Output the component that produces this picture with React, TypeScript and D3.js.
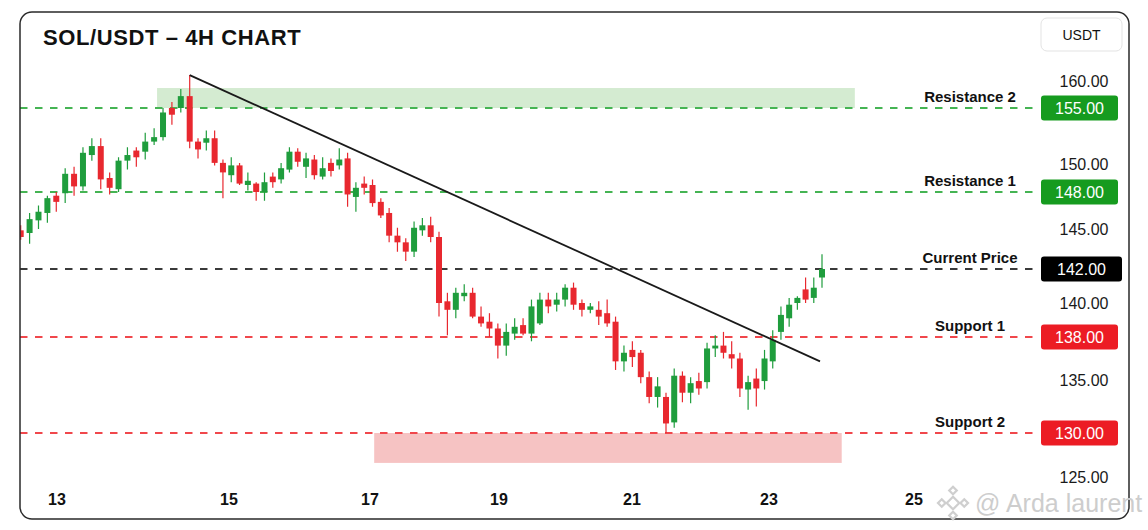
import React from 'react';
import * as d3 from 'd3';

// ---- Data ----
const opens = [144.9,144.7,145.7,146.3,147.7,147.9,149.3,148.4,150.8,151.6,149.0,148.2,150.3,151.2,151.1,152.0,152.4,155.0,155.0,157.2,
152.0,151.9,152.3,150.1,149.2,149.9,148.5,148.6,148.0,149.1,148.9,149.6,151.1,149.8,150.4,149.1,150.1,149.9,150.5,147.6,
148.6,148.5,147.2,146.3,144.5,144.0,143.3,144.9,145.3,144.4,140.1,139.6,140.4,140.6,139.2,138.9,138.5,137.4,138.2,138.7,
138.2,138.8,140.2,139.9,140.2,140.9,140.0,139.6,139.6,139.4,138.9,136.3,137.1,136.9,135.2,133.4,133.4,131.0,135.3,133.8,
134.9,134.8,137.2,137.4,136.8,136.5,134.1,135.1,134.9,136.3,138.3,139.1,140.0,140.8,140.3,141.5];
const highs = [145.3,146.3,146.9,147.7,148.0,149.7,149.8,151.5,152.3,152.3,149.4,150.6,151.5,151.5,152.8,153.2,155.0,156.1,158.5,161.1,
152.3,153.0,153.0,150.4,150.6,150.1,149.4,148.7,149.4,149.4,150.1,151.5,151.4,151.0,150.8,150.6,150.5,151.4,151.0,148.7,
149.1,148.9,147.5,146.7,145.1,144.3,145.6,145.9,146.0,144.8,140.6,140.9,141.1,140.9,139.8,139.4,138.8,138.8,139.1,139.1,
140.2,140.6,140.6,140.6,141.1,141.2,140.2,140.0,140.1,140.2,139.2,137.4,137.7,137.1,135.6,135.2,133.8,135.8,135.6,135.2,
135.5,137.6,138.1,138.3,137.7,136.9,135.3,135.8,137.1,138.4,139.8,140.3,140.4,141.5,141.5,143.1];
const lows = [144.2,143.9,145.0,145.5,146.4,147.1,147.7,148.1,150.3,148.2,147.8,148.0,149.6,149.8,150.4,151.7,152.1,153.5,154.6,151.4,
150.5,151.2,149.9,147.5,148.7,148.5,148.1,147.3,147.3,148.3,148.6,149.4,149.8,149.0,148.9,148.9,149.1,149.6,146.8,146.4,
147.8,146.8,145.9,144.0,143.3,142.6,142.9,144.5,144.0,139.2,138.1,139.1,140.1,139.1,138.6,138.0,136.5,136.7,137.8,138.1,
137.7,138.7,139.4,139.5,139.8,139.6,139.2,139.4,138.7,138.6,135.7,135.6,135.9,134.7,132.8,132.4,130.0,130.5,132.9,132.8,
133.6,134.2,136.6,136.5,135.8,133.4,132.2,132.5,134.1,135.8,137.8,138.6,139.6,140.0,140.0,140.9];
const closes = [144.4,145.8,146.4,147.5,147.2,149.3,148.4,151.0,151.6,148.9,148.3,150.3,150.8,150.6,152.0,152.4,154.6,154.4,157.2,152.0,
151.3,152.3,150.1,149.4,149.9,148.6,148.8,148.0,148.7,148.7,149.7,151.1,150.2,150.5,149.2,149.7,149.5,150.4,147.8,148.3,
148.3,147.1,146.1,144.5,144.0,143.3,145.1,145.3,144.4,140.0,139.6,140.6,140.6,139.2,138.8,138.5,137.4,138.3,138.6,138.2,
139.8,140.2,139.8,140.2,140.9,139.9,139.6,139.8,139.2,138.8,136.3,136.9,136.6,135.2,133.4,134.4,130.9,135.3,133.8,134.7,
134.2,137.2,137.4,136.9,136.5,134.2,134.8,134.2,136.5,137.8,139.3,139.9,140.3,140.2,140.9,142.0];

const priceTicks = [160, 150, 145, 140, 135, 125];
const dateTicks = [13, 15, 17, 19, 21, 23, 25];
const levelNames = ['Resistance 2', 'Resistance 1', 'Current Price', 'Support 1', 'Support 2'];
const levelValues = [155, 148, 142, 138, 130];
const levelKinds = ['res', 'res', 'cur', 'sup', 'sup'];
const resistanceZone = { fromIdx: 15.33, toIdx: 99.0, low: 155, high: 158.7 };
const supportZone = { fromIdx: 41.2, toIdx: 97.4, low: 126.6, high: 130 };
const trendStart = { idx: 19, price: 161.1 };
const trendEnd = { idx: 94.76, price: 136.3 };

const W = 1148;
const H = 530;
const FONT = "'Liberation Sans', Arial, Helvetica, sans-serif";

const COLORS = {
  up: '#1f9d3d',
  down: '#e8282f',
  res: '#45b453',
  cur: '#3a3a3a',
  sup: '#f0474c',
  boxRes: '#169b1f',
  boxCur: '#000000',
  boxSup: '#ec1c24',
};

export default function App() {
  // The reference's price axis is non-uniform; reproduce it with a polylinear scale.
  const y = d3
    .scaleLinear()
    .domain([125, 130, 135, 138, 140, 142, 145, 148, 150, 155, 160])
    .range([477, 433, 380, 337, 303, 269, 229, 192, 164, 108, 81]);
  // Candle spacing in the reference is slightly uneven; calibrate with a polylinear scale.
  const x = d3.scaleLinear().domain([0, 19, 49, 76, 95]).range([20.7, 189.7, 439, 666, 822]);
  const xDate = d3
    .scaleLinear()
    .domain(dateTicks)
    .range([57, 229, 370, 499, 632, 769, 914]);

  const frame = { x: 20, y: 12, w: 1109, h: 507, r: 12 };
  const lineX0 = frame.x;
  const lineX1 = 1040;
  const bodyW = 6;

  const lineColor = (k: string) => (k === 'res' ? COLORS.res : k === 'cur' ? COLORS.cur : COLORS.sup);
  const boxColor = (k: string) => (k === 'res' ? COLORS.boxRes : k === 'cur' ? COLORS.boxCur : COLORS.boxSup);

  const candles = opens.map((o, i) => ({ o, h: highs[i], l: lows[i], c: closes[i], i }));

  return (
    <svg
      width={W}
      height={H}
      viewBox={`0 0 ${W} ${H}`}
      style={{ position: 'absolute', left: 0, top: 0, background: '#fff', fontFamily: FONT }}
    >
      <defs>
        <clipPath id="plotClip">
          <rect x={frame.x} y={frame.y} width={frame.w} height={frame.h} rx={frame.r} />
        </clipPath>
      </defs>
      <rect x={0} y={0} width={W} height={H} fill="#fff" />

      <g clipPath="url(#plotClip)">
        {/* zones */}
        <rect
          x={x(resistanceZone.fromIdx)}
          y={y(resistanceZone.high)}
          width={x(resistanceZone.toIdx) - x(resistanceZone.fromIdx)}
          height={y(resistanceZone.low) - y(resistanceZone.high)}
          fill="#cfe9cc"
          opacity={0.9}
        />
        <rect
          x={x(supportZone.fromIdx)}
          y={y(supportZone.high)}
          width={x(supportZone.toIdx) - x(supportZone.fromIdx)}
          height={y(supportZone.low) - y(supportZone.high)}
          fill="#f5bcbd"
          opacity={0.9}
        />

        {/* level lines */}
        {levelValues.map((v, i) => (
          <line
            key={'lv' + i}
            x1={lineX0}
            x2={lineX1}
            y1={y(v)}
            y2={y(v)}
            stroke={lineColor(levelKinds[i])}
            strokeWidth={2}
            strokeDasharray="7.5,7.5"
          />
        ))}

        {/* candles */}
        {candles.map((d) => {
          const up = d.c >= d.o;
          const col = up ? COLORS.up : COLORS.down;
          const cx = x(d.i);
          const top = y(Math.max(d.o, d.c));
          const bot = y(Math.min(d.o, d.c));
          return (
            <g key={'c' + d.i}>
              <line x1={cx} x2={cx} y1={y(d.h)} y2={y(d.l)} stroke={col} strokeWidth={1.2} />
              <rect x={cx - bodyW / 2} y={top} width={bodyW} height={Math.max(1.5, bot - top)} fill={col} />
            </g>
          );
        })}

        {/* trend line */}
        <line
          x1={x(trendStart.idx)}
          y1={y(trendStart.price)}
          x2={x(trendEnd.idx)}
          y2={y(trendEnd.price)}
          stroke="#1a1a1a"
          strokeWidth={1.8}
        />
      </g>

      {/* frame */}
      <rect
        x={frame.x}
        y={frame.y}
        width={frame.w}
        height={frame.h}
        rx={frame.r}
        fill="none"
        stroke="#2a2a2a"
        strokeWidth={1.5}
      />

      {/* title */}
      <text x={43} y={45} fontSize={22} fontWeight="bold" letterSpacing={0.6} fill="#111">
        SOL/USDT – 4H CHART
      </text>

      {/* USDT box */}
      <rect x={1041} y={18} width={81} height={33} rx={6} fill="#fff" stroke="#e3e3e3" strokeWidth={1} />
      <text x={1081.5} y={35} fontSize={14} textAnchor="middle" dominantBaseline="central" fill="#111">
        USDT
      </text>

      {/* price tick labels */}
      {priceTicks.map((t) => (
        <text
          key={'pt' + t}
          x={1084}
          y={y(t)}
          fontSize={16}
          textAnchor="middle"
          dominantBaseline="central"
          fill="#1a1a1a"
        >
          {t.toFixed(2)}
        </text>
      ))}

      {/* level labels and boxes */}
      {levelValues.map((v, i) => {
        const k = levelKinds[i];
        const bw = k === 'cur' ? 81 : 77;
        return (
          <g key={'lb' + i}>
            <text
              x={970}
              y={y(v) - 6.5}
              fontSize={15}
              fontWeight="bold"
              textAnchor="middle"
              fill="#111"
            >
              {levelNames[i]}
            </text>
            <rect x={1041} y={y(v) - 12.5} width={bw} height={25} rx={3} fill={boxColor(k)} />
            <text
              x={1041 + bw / 2}
              y={y(v)}
              fontSize={16}
              textAnchor="middle"
              dominantBaseline="central"
              fill="#fff"
            >
              {v.toFixed(2)}
            </text>
          </g>
        );
      })}

      {/* date tick labels */}
      {dateTicks.map((t) => (
        <text
          key={'dt' + t}
          x={xDate(t)}
          y={499}
          fontSize={16}
          fontWeight="bold"
          textAnchor="middle"
          dominantBaseline="central"
          fill="#111"
        >
          {t}
        </text>
      ))}

      {/* watermark */}
      <g stroke="#cfcfcf" strokeWidth={1.8} fill="none" transform="translate(953,503) scale(1.25)">
        <path d="M0,-5 L5,0 L0,5 L-5,0 Z" />
        <path d="M0,-13 L3,-10 L0,-7 L-3,-10 Z" />
        <path d="M0,7 L3,10 L0,13 L-3,10 Z" />
        <path d="M-9,-3 L-6,0 L-9,3 L-12,0 Z" />
        <path d="M9,-3 L12,0 L9,3 L6,0 Z" />
      </g>
      <text x={975} y={503} fontSize={25} dominantBaseline="central" fill="#cdcdcd">
        @ Arda laurent
      </text>
    </svg>
  );
}
